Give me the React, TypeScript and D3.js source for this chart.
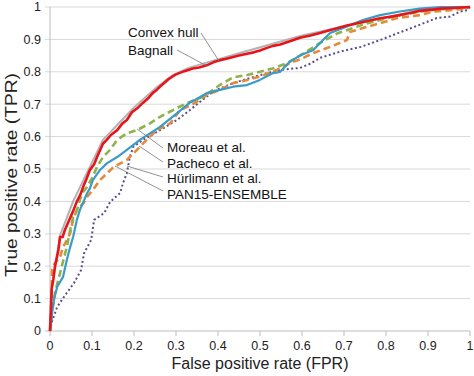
import React from "react";
import * as d3 from "d3";

const W = 474;
const H = 376;

const tickValues = [0, 0.1, 0.2, 0.3, 0.4, 0.5, 0.6, 0.7, 0.8, 0.9, 1];
const tickLabels = ["0", "0.1", "0.2", "0.3", "0.4", "0.5", "0.6", "0.7", "0.8", "0.9", "1"];

const xTitle = "False positive rate (FPR)";
const yTitle = "True positive rate (TPR)";

const convexHull: [number, number][] = [
  [0, 0], [0.004, 0.13], [0.024, 0.295], [0.055, 0.4], [0.126, 0.59], [0.2, 0.69], [0.254, 0.752],
  [0.29, 0.788], [0.33, 0.812], [0.45, 0.857], [0.6, 0.912], [0.88, 0.99], [1, 1],
];

const bagnall: [number, number][] = [
  [0, 0], [0.002, 0.06], [0.004, 0.13], [0.008, 0.16], [0.012, 0.2], [0.02, 0.25], [0.024, 0.29],
  [0.03, 0.29], [0.035, 0.31], [0.045, 0.34], [0.055, 0.37], [0.064, 0.4], [0.072, 0.42],
  [0.079, 0.445], [0.087, 0.47], [0.095, 0.497], [0.105, 0.515], [0.112, 0.537], [0.12, 0.56],
  [0.126, 0.578], [0.135, 0.59], [0.145, 0.605], [0.16, 0.62], [0.172, 0.64], [0.183, 0.651],
  [0.195, 0.675], [0.21, 0.69], [0.221, 0.704], [0.235, 0.72], [0.245, 0.735], [0.254, 0.744],
  [0.265, 0.758], [0.28, 0.775], [0.29, 0.784], [0.3, 0.792], [0.32, 0.802], [0.34, 0.81],
  [0.355, 0.813], [0.373, 0.82], [0.39, 0.83], [0.405, 0.836], [0.42, 0.84], [0.436, 0.846],
  [0.45, 0.85], [0.469, 0.856], [0.485, 0.86], [0.5, 0.866], [0.515, 0.873], [0.531, 0.88],
  [0.548, 0.884], [0.564, 0.891], [0.58, 0.898], [0.595, 0.905], [0.62, 0.912], [0.643, 0.92],
  [0.67, 0.93], [0.707, 0.943], [0.745, 0.954], [0.786, 0.965], [0.81, 0.97], [0.833, 0.975],
  [0.86, 0.982], [0.88, 0.988], [0.91, 0.992], [0.93, 0.995], [0.96, 0.997], [1, 1],
];

const moreau: [number, number][] = [
  [0, 0], [0.005, 0.06], [0.012, 0.12], [0.02, 0.16], [0.024, 0.179], [0.032, 0.22],
  [0.04, 0.259], [0.048, 0.312], [0.055, 0.352], [0.064, 0.373], [0.071, 0.404], [0.079, 0.43],
  [0.088, 0.444], [0.1, 0.472], [0.112, 0.506], [0.126, 0.537], [0.143, 0.559], [0.16, 0.59],
  [0.183, 0.61], [0.207, 0.62], [0.238, 0.641], [0.262, 0.661], [0.293, 0.682], [0.325, 0.703],
  [0.365, 0.723], [0.405, 0.76], [0.436, 0.783], [0.47, 0.79], [0.5, 0.8], [0.53, 0.81],
  [0.564, 0.827], [0.595, 0.85], [0.62, 0.87], [0.643, 0.889], [0.683, 0.918], [0.721, 0.935],
  [0.75, 0.948], [0.786, 0.96], [0.833, 0.975], [0.88, 0.986], [0.93, 0.993], [0.97, 0.997], [1, 1],
];

const pacheco: [number, number][] = [
  [0, 0], [0.002, 0.05], [0.004, 0.12], [0.005, 0.19], [0.008, 0.2], [0.012, 0.21],
  [0.024, 0.228], [0.031, 0.259], [0.04, 0.28], [0.048, 0.302], [0.055, 0.343], [0.064, 0.373],
  [0.071, 0.383], [0.08, 0.395], [0.088, 0.414], [0.102, 0.435], [0.119, 0.466], [0.136, 0.487],
  [0.151, 0.506], [0.183, 0.528], [0.207, 0.559], [0.23, 0.59], [0.254, 0.62], [0.286, 0.641],
  [0.31, 0.682], [0.34, 0.7], [0.373, 0.728], [0.405, 0.745], [0.436, 0.765], [0.47, 0.775],
  [0.5, 0.785], [0.54, 0.806], [0.571, 0.827], [0.595, 0.838], [0.627, 0.858], [0.667, 0.877],
  [0.707, 0.898], [0.714, 0.923], [0.745, 0.935], [0.786, 0.95], [0.826, 0.966], [0.88, 0.975],
  [0.912, 0.986], [0.952, 0.99], [0.99, 0.995], [1, 1],
];

const hurlimann: [number, number][] = [
  [0, 0], [0.003, 0.03], [0.005, 0.056], [0.01, 0.1], [0.017, 0.136], [0.031, 0.167],
  [0.04, 0.219], [0.048, 0.259], [0.055, 0.29], [0.064, 0.343], [0.071, 0.373], [0.08, 0.4],
  [0.088, 0.425], [0.095, 0.44], [0.102, 0.466], [0.119, 0.497], [0.136, 0.518], [0.16, 0.537],
  [0.183, 0.559], [0.214, 0.59], [0.238, 0.61], [0.262, 0.63], [0.302, 0.672], [0.333, 0.705],
  [0.345, 0.713], [0.373, 0.734], [0.405, 0.744], [0.436, 0.754], [0.469, 0.759], [0.5, 0.775],
  [0.531, 0.796], [0.548, 0.8], [0.571, 0.831], [0.595, 0.85], [0.627, 0.867], [0.65, 0.898],
  [0.667, 0.92], [0.707, 0.94], [0.745, 0.96], [0.786, 0.975], [0.833, 0.986], [0.88, 0.995],
  [0.93, 1], [1, 1],
];

const pan15: [number, number][] = [
  [0, 0], [0.005, 0.03], [0.017, 0.074], [0.033, 0.105], [0.057, 0.148], [0.074, 0.188],
  [0.081, 0.24], [0.098, 0.281], [0.105, 0.343], [0.129, 0.364], [0.143, 0.398], [0.167, 0.426],
  [0.174, 0.457], [0.183, 0.487], [0.19, 0.537], [0.198, 0.568], [0.221, 0.59], [0.262, 0.62],
  [0.302, 0.651], [0.333, 0.682], [0.36, 0.71], [0.388, 0.739], [0.436, 0.765], [0.5, 0.79],
  [0.548, 0.806], [0.595, 0.812], [0.62, 0.825], [0.643, 0.843], [0.69, 0.862], [0.74, 0.877],
  [0.79, 0.9], [0.84, 0.925], [0.88, 0.945], [0.921, 0.966], [0.952, 0.97], [0.976, 0.986],
  [0.993, 0.99], [1, 1],
];

type Series = { name: string; data: [number, number][]; color: string; width: number; dash?: string };

const series: Series[] = [
  { name: "Convex hull", data: convexHull, color: "#b3b3b3", width: 2 },
  { name: "PAN15-ENSEMBLE", data: pan15, color: "#5a4e8c", width: 2, dash: "2,2.5" },
  { name: "Pacheco et al.", data: pacheco, color: "#e8893a", width: 2.6, dash: "7,4" },
  { name: "Moreau et al.", data: moreau, color: "#8fb24a", width: 2.6, dash: "7,4" },
  { name: "Hürlimann et al.", data: hurlimann, color: "#3a9bc6", width: 2.2 },
  { name: "Bagnall", data: bagnall, color: "#e8141c", width: 2.6 },
];

const topLabels = ["Convex hull", "Bagnall"];
const midLabels = ["Moreau et al.", "Pacheco et al.", "Hürlimann et al.", "PAN15-ENSEMBLE"];

export default function App() {
  const x = d3.scaleLinear().domain([0, 1]).range([50, 470]);
  const y = d3.scaleLinear().domain([0, 1]).range([331, 7]);
  const line = d3
    .line<[number, number]>()
    .x((d) => x(d[0]))
    .y((d) => y(d[1]));

  const font = "'Liberation Sans', Arial, Helvetica, sans-serif";

  const topLeaders: [[number, number], [number, number]][] = [
    [[x.invert(201), y.invert(33)], [x.invert(219), y.invert(61)]],
    [[x.invert(177), y.invert(50)], [x.invert(207), y.invert(66)]],
  ];
  const midLeaders: [[number, number], [number, number]][] = [
    [[x.invert(137), y.invert(129)], [x.invert(163), y.invert(148)]],
    [[x.invert(139), y.invert(146)], [x.invert(163), y.invert(162)]],
    [[x.invert(127), y.invert(166)], [x.invert(163), y.invert(177)]],
    [[x.invert(115), y.invert(166)], [x.invert(163), y.invert(191)]],
  ];

  return (
    <svg
      width={W}
      height={H}
      style={{ position: "absolute", left: 0, top: 0, background: "#fff" }}
      fontFamily={font}
    >
      <rect width={W} height={H} fill="#fff" />
      {tickValues.map((t) => (
        <line key={"g" + t} x1={x(0) - 5} x2={x(1)} y1={y(t)} y2={y(t)} stroke={t === 0 ? "#bdbdbd" : "#d9d9d9"} strokeWidth={1} />
      ))}
      <line x1={x(0)} x2={x(0)} y1={y(0)} y2={y(1)} stroke="#bdbdbd" strokeWidth={1} />
      {tickValues.map((t) => (
        <line key={"xt" + t} x1={x(t)} x2={x(t)} y1={y(0)} y2={y(0) + 5} stroke="#bdbdbd" strokeWidth={1} />
      ))}
      {tickValues.map((t, i) => (
        <text key={"yl" + t} x={x(0) - 9} y={y(t)} dy="0.35em" textAnchor="end" fontSize={12.5} fill="#222">
          {tickLabels[i]}
        </text>
      ))}
      {tickValues.map((t, i) => (
        <text key={"xl" + t} x={x(t)} y={y(0) + 19} textAnchor="middle" fontSize={12.5} fill="#222">
          {tickLabels[i]}
        </text>
      ))}
      <text x={x(0.5)} y={369} textAnchor="middle" fontSize={16} fill="#222">
        {xTitle}
      </text>
      <text transform={`translate(17,175) rotate(-90) scale(1.2,1)`} textAnchor="middle" fontSize={16} fill="#222">
        {yTitle}
      </text>
      {series.map((s) => (
        <path
          key={s.name}
          d={line(s.data) || ""}
          fill="none"
          stroke={s.color}
          strokeWidth={s.width}
          strokeDasharray={s.dash}
          strokeLinejoin="round"
        />
      ))}
      {[...topLeaders, ...midLeaders].map((l, i) => (
        <line key={"ld" + i} x1={x(l[0][0])} y1={y(l[0][1])} x2={x(l[1][0])} y2={y(l[1][1])} stroke="#777" strokeWidth={0.8} />
      ))}
      {topLabels.map((t, i) => (
        <text key={t} x={128} y={37 + i * 18} fontSize={13.5} fill="#111">
          {t}
        </text>
      ))}
      {midLabels.map((t, i) => (
        <text key={t} x={167} y={152 + i * 15.7} fontSize={13.5} fill="#111">
          {t}
        </text>
      ))}
    </svg>
  );
}
